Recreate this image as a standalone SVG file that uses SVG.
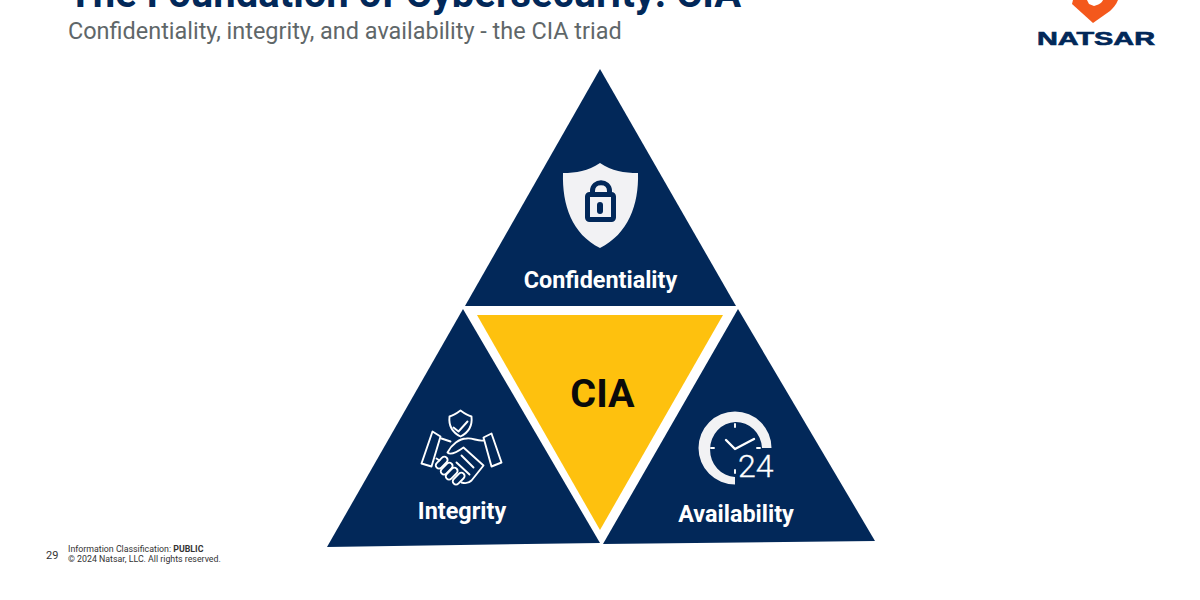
<svg xmlns="http://www.w3.org/2000/svg" width="1200" height="600" viewBox="0 0 1200 600">
<style>
text{font-family:Roboto,"Liberation Sans",sans-serif}
.tri{fill:#022859}
.lbl{fill:#fff;font-size:23.4px;font-weight:700;text-anchor:middle}
.ln{fill:none;stroke:#fff;stroke-width:1.9;stroke-linejoin:round;stroke-linecap:round}
.foot{font-size:8.8px;fill:#333}
</style>
<rect width="1200" height="600" fill="#fff"/>
<g id="header">
<text x="68" y="7" font-size="40" font-weight="700" fill="#022859">The Foundation of Cybersecurity: CIA</text>
<text x="68" y="39" font-size="23.450" fill="#5f6769">Confidentiality, integrity, and availability - the CIA triad</text>
</g>
<g id="logo">
<path d="M1073 0L1118 0C1116 5 1113 8 1110 11L1093 23L1072 4Z" fill="#f4581c"/>
<path d="M1087 0L1103 0C1102 3 1098 5 1094 6L1089 4Z" fill="#fff"/>
<text x="1037" y="45" font-size="18" font-weight="700" textLength="118" lengthAdjust="spacingAndGlyphs" fill="#022859" stroke="#022859" stroke-width="0.6" style="font-family:'Liberation Sans',sans-serif">NATSAR</text>
</g>
<g id="confidentiality">
<path class="tri" d="M600 69L736 306L465 306Z"/>
<path d="M600 163C588 171 576 173 563 173C562 205 572 234 600 248C628 234 639 205 638 173C624 173 612 171 600 163Z" fill="#f2f2f4"/>
<path d="M592.500 195V191C592.500 180 609.500 180 609.500 191V195" fill="none" stroke="#022859" stroke-width="5"/>
<rect x="587.500" y="194.500" width="26" height="25" rx="2" fill="none" stroke="#022859" stroke-width="5"/>
<rect x="597" y="202" width="6" height="12" rx="3" fill="#022859"/>
<text class="lbl" x="600.500" y="288">Confidentiality</text>
</g>
<g id="integrity">
<path class="tri" d="M463 309L600 543L327 547Z"/>
<g transform="translate(1.500 0.500)">
<path class="ln" d="M459 410C455 413 452 415 448 416C447 425 451 432 459 436C467 432 471 425 470 416C466 415 463 413 459 410Z"/>
<path class="ln" d="M452 427L457 431L466 421"/>
<path class="ln" d="M431 431L420 463L430 466L439 436Z"/>
<path class="ln" d="M490 433L500 462L490 466L482 437Z"/>
<path class="ln" d="M440 438L449 441M482 440C476 441 471 437 465 438C458 438 450 444 446 452C449 455 455 452 462 447L482 465L470 480C467 483 463 483 460 482"/>
<path class="ln" d="M435 458L438 460M460 455L472 467M455 462L468 474"/>
<rect class="ln" x="433" y="459" width="14" height="6.500" rx="3.200" transform="rotate(-45 440 462)"/>
<rect class="ln" x="438" y="465" width="14" height="6.500" rx="3.200" transform="rotate(-45 445 468)"/>
<rect class="ln" x="443" y="470" width="14" height="6.500" rx="3.200" transform="rotate(-45 450 473)"/>
<rect class="ln" x="450" y="475" width="14" height="6.500" rx="3.200" transform="rotate(-45 457 478)"/>
</g>
<text class="lbl" x="462" y="519">Integrity</text>
</g>
<g id="availability">
<path class="tri" d="M738 309L875 541L603 544Z"/>
<path d="M771.500 448A36.500 36.500 0 1 0 735 484.500L735 477A26 27.500 0 1 1 762 448Z" fill="#f2f2f4"/>
<path class="ln" d="M735 424V427M735 470V473M711 448H714M757 448H760"/>
<path class="ln" style="stroke-width:2.400" d="M726 440L735 449L754 439"/>
<text x="738" y="477" font-size="32" font-weight="300" fill="#fff" stroke="#fff" stroke-width="0.300">24</text>
<text class="lbl" x="736" y="522">Availability</text>
</g>
<g id="cia">
<path d="M477 315H723L600 530Z" fill="#fec10e"/>
<text x="602.500" y="407" font-size="39.500" font-weight="700" text-anchor="middle" fill="#0a0a0a">CIA</text>
</g>
<g id="footer">
<text x="46" y="559" font-size="11" fill="#333">29</text>
<text class="foot" x="68" y="552">Information Classification: <tspan font-weight="700">PUBLIC</tspan></text>
<text class="foot" x="68" y="562">© 2024 Natsar, LLC. All rights reserved.</text>
</g>
</svg>
